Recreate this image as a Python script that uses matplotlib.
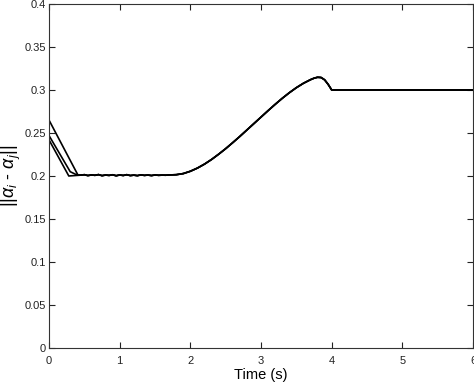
import numpy as np
import matplotlib
matplotlib.use('Agg')
import matplotlib.pyplot as plt

plt.rcParams['font.family'] = ['Liberation Sans', 'DejaVu Sans']
plt.rcParams['mathtext.fontset'] = 'custom'
plt.rcParams['mathtext.rm'] = 'Liberation Sans'
plt.rcParams['mathtext.it'] = 'Liberation Sans:italic'

# initial convergence segments of the three distances
head_t = [
    [0.0, 0.41],
    [0.0, 0.30, 0.40],
    [0.0, 0.28],
]
head_v = [
    [0.265, 0.201],
    [0.247, 0.205, 0.201],
    [0.242, 0.200],
]

# shared trajectory after convergence
tail_t = [0.45, 0.5, 0.55, 0.6, 0.65, 0.7, 0.75, 0.8, 0.85, 0.9, 0.95, 1.0,
          1.05, 1.1, 1.15, 1.2, 1.25, 1.3, 1.35, 1.4, 1.45, 1.5, 1.55, 1.6,
          1.65, 1.7, 1.8, 1.9, 2.0, 2.1, 2.2, 2.3, 2.4, 2.5, 2.6, 2.7, 2.8,
          2.9, 3.0, 3.1, 3.2, 3.3, 3.4, 3.5, 3.6, 3.7, 3.75, 3.8, 3.85, 3.9,
          3.95, 4.0, 6.0]
tail_v = [0.201, 0.2015, 0.2005, 0.2012, 0.2008, 0.2016, 0.2004, 0.2011,
          0.2007, 0.2014, 0.2003, 0.2012, 0.2006, 0.2015, 0.2005, 0.2010,
          0.2004, 0.2013, 0.2007, 0.2011, 0.2005, 0.2012, 0.2008, 0.2010,
          0.2009, 0.2012, 0.2015, 0.2028, 0.2055, 0.2092, 0.2138, 0.2192,
          0.2253, 0.2318, 0.2388, 0.2460, 0.2535, 0.2610, 0.2685, 0.2760,
          0.2833, 0.2903, 0.2968, 0.3027, 0.3078, 0.3120, 0.3137, 0.3148,
          0.3145, 0.3118, 0.3065, 0.300, 0.300]

fig = plt.figure(figsize=(4.74, 3.84), dpi=100)
ax = fig.add_axes([0.1034, 0.0938, 0.8946, 0.8958])

for ht, hv in zip(head_t, head_v):
    ax.plot(ht + tail_t, hv + tail_v, color='black', linewidth=1.2)

ax.set_xlim(0, 6)
ax.set_ylim(0, 0.4)
ax.set_xticks(range(0, 7))
ax.set_yticks(np.arange(0, 0.401, 0.05))
ax.set_yticklabels(['0', '0.05', '0.1', '0.15', '0.2', '0.25', '0.3', '0.35', '0.4'])
ax.tick_params(direction='in', length=4, width=0.8, top=True, right=True,
               labelsize=8, colors='#222222')
ax.tick_params(axis='x', pad=6)
ax.tick_params(axis='y', pad=2)
for s in ax.spines.values():
    s.set_linewidth(0.8)
    s.set_color('#333333')

ax.set_xlabel('Time (s)', fontsize=10.5, labelpad=1)
ax.set_ylabel(r'$||\alpha_i$ - $\alpha_j||$', fontsize=13)
ax.yaxis.set_label_coords(-0.062, 0.5)

fig.savefig('out.png', dpi=100)
